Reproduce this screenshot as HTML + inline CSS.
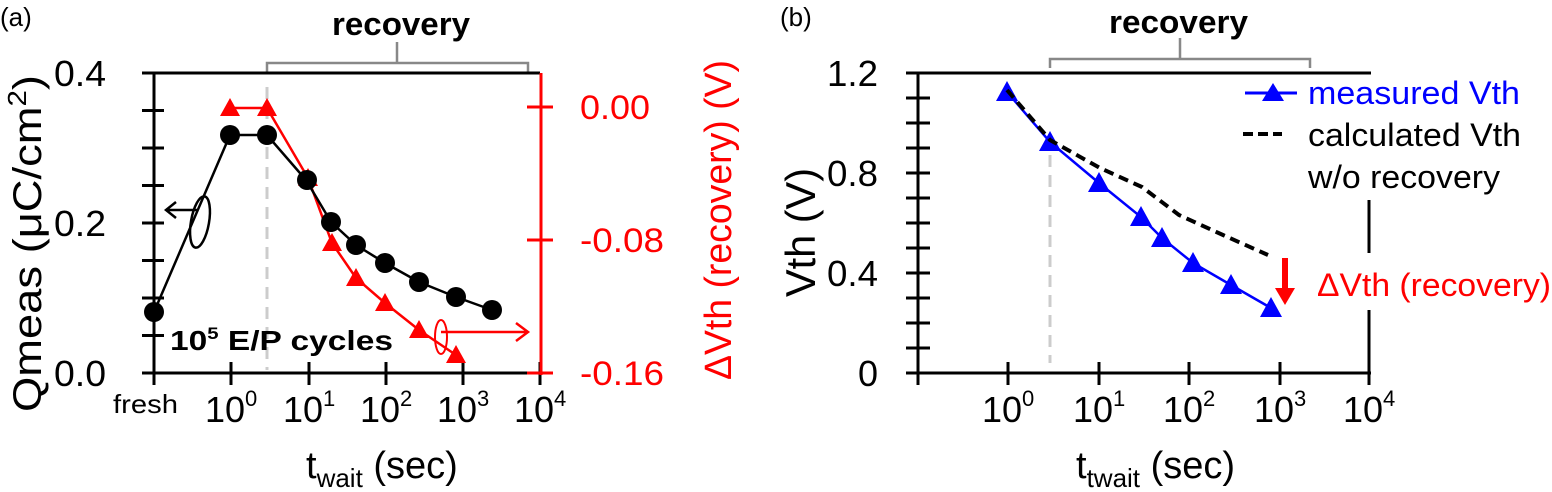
<!DOCTYPE html>
<html><head><meta charset="utf-8"><style>
html,body{margin:0;padding:0;background:#fff;}
svg{display:block;font-family:"Liberation Sans",sans-serif;}
</style></head><body>
<svg width="1552" height="492" viewBox="0 0 1552 492" xmlns="http://www.w3.org/2000/svg">
<!-- ===== Panel (a) ===== -->
<text x="0" y="26" font-size="26">(a)</text>
<text x="332" y="35" font-size="32" font-weight="bold" textLength="138" lengthAdjust="spacingAndGlyphs">recovery</text>
<path d="M267,73 V63 H528 V73 M397,63 V42" fill="none" stroke="#888" stroke-width="2.5"/>
<line x1="267" y1="87" x2="267" y2="370" stroke="#ccc" stroke-width="3" stroke-dasharray="12,8"/>
<line x1="142" y1="73" x2="540" y2="73" stroke="#000" stroke-width="3"/>
<line x1="154" y1="73" x2="154" y2="385" stroke="#000" stroke-width="3"/>
<line x1="142" y1="373" x2="540" y2="373" stroke="#000" stroke-width="3"/>
<g stroke="#000" stroke-width="3">
<line x1="142" y1="110.5" x2="164" y2="110.5"/><line x1="142" y1="148" x2="164" y2="148"/>
<line x1="142" y1="185.5" x2="164" y2="185.5"/><line x1="142" y1="223" x2="164" y2="223"/>
<line x1="142" y1="260.5" x2="164" y2="260.5"/><line x1="142" y1="298" x2="164" y2="298"/>
<line x1="142" y1="335.5" x2="164" y2="335.5"/>
<line x1="231" y1="362" x2="231" y2="385"/><line x1="309" y1="362" x2="309" y2="385"/>
<line x1="386" y1="362" x2="386" y2="385"/><line x1="463" y1="362" x2="463" y2="385"/>
<line x1="540" y1="362" x2="540" y2="385"/>
</g>
<line x1="541" y1="73" x2="541" y2="375" stroke="#f00" stroke-width="3"/>
<g stroke="#f00" stroke-width="3">
<line x1="527" y1="107" x2="553" y2="107"/><line x1="527" y1="240" x2="553" y2="240"/><line x1="527" y1="373" x2="553" y2="373"/>
</g>
<g font-size="36">
<text x="54" y="86" textLength="52" lengthAdjust="spacingAndGlyphs">0.4</text>
<text x="54" y="236" textLength="52" lengthAdjust="spacingAndGlyphs">0.2</text>
<text x="54" y="386" textLength="52" lengthAdjust="spacingAndGlyphs">0.0</text>
</g>
<g font-size="34" fill="#f00">
<text x="580" y="119" textLength="70" lengthAdjust="spacingAndGlyphs">0.00</text>
<text x="580" y="252" textLength="84" lengthAdjust="spacingAndGlyphs">-0.08</text>
<text x="580" y="385" textLength="84" lengthAdjust="spacingAndGlyphs">-0.16</text>
</g>
<text transform="translate(41,412) rotate(-90)" font-size="40" textLength="337" lengthAdjust="spacingAndGlyphs">Qmeas (μC/cm<tspan font-size="26" dy="-15">2</tspan><tspan dy="15">)</tspan></text>
<text transform="translate(731,380) rotate(-90)" font-size="38" fill="#f00" textLength="320" lengthAdjust="spacingAndGlyphs">ΔVth (recovery) (V)</text>
<text x="113" y="413" font-size="26" textLength="65" lengthAdjust="spacingAndGlyphs">fresh</text>
<g font-size="36">
<text x="205" y="422">10<tspan font-size="22" dy="-16">0</tspan></text>
<text x="283" y="422">10<tspan font-size="22" dy="-16">1</tspan></text>
<text x="360" y="422">10<tspan font-size="22" dy="-16">2</tspan></text>
<text x="437" y="422">10<tspan font-size="22" dy="-16">3</tspan></text>
<text x="514" y="422">10<tspan font-size="22" dy="-16">4</tspan></text>
</g>
<text x="306" y="478" font-size="38">t<tspan font-size="26" dy="9">wait</tspan><tspan dy="-9"> (sec)</tspan></text>
<polyline points="230,108 267,108 308,178 332,243 356,278 385,303 419,330 456,355" fill="none" stroke="#f00" stroke-width="2.5"/>
<g fill="#f00">
<polygon points="230,98 220,116 240,116"/><polygon points="267,98 257,116 277,116"/>
<polygon points="308,168 298,186 318,186"/><polygon points="332,233 322,251 342,251"/>
<polygon points="356,268 346,286 366,286"/><polygon points="385,293 375,311 395,311"/>
<polygon points="419,320 409,338 429,338"/><polygon points="456,345 446,363 466,363"/>
</g>
<polyline points="154,312 230,135 267,135 306,180 331,222 356,245 385,263 419,282 456,297 492,310" fill="none" stroke="#000" stroke-width="2.5"/>
<g fill="#000">
<circle cx="154" cy="312" r="10"/><circle cx="230" cy="135" r="10"/><circle cx="267" cy="135" r="10"/>
<circle cx="307" cy="180" r="10"/><circle cx="331" cy="222" r="10"/><circle cx="356" cy="245" r="10"/>
<circle cx="385" cy="263" r="10"/><circle cx="419" cy="282" r="10"/><circle cx="456" cy="297" r="10"/>
<circle cx="492" cy="310" r="10"/>
</g>
<path d="M198,210 H166 M176,202 L166,210 L176,218" fill="none" stroke="#000" stroke-width="2.5"/>
<ellipse cx="200" cy="222" rx="9" ry="26" fill="none" stroke="#000" stroke-width="2.5" transform="rotate(10 200 222)"/>
<path d="M441,332 H528 M516,323 L528,332 L516,341" fill="none" stroke="#f00" stroke-width="2.5"/>
<ellipse cx="441" cy="337" rx="6" ry="17" fill="none" stroke="#f00" stroke-width="2"/>
<text x="170" y="350" font-size="28" font-weight="bold" textLength="223" lengthAdjust="spacingAndGlyphs">10<tspan font-size="17" dy="-11">5</tspan><tspan dy="11"> E/P cycles</tspan></text>

<!-- ===== Panel (b) ===== -->
<text x="780" y="26" font-size="26">(b)</text>
<text x="1109" y="33" font-size="32" font-weight="bold" textLength="139" lengthAdjust="spacingAndGlyphs">recovery</text>
<path d="M1050,68 V59 H1310 V68 M1180,59 V38" fill="none" stroke="#888" stroke-width="2.5"/>
<line x1="1050" y1="135" x2="1050" y2="363" stroke="#ccc" stroke-width="3" stroke-dasharray="12,8"/>
<line x1="906" y1="73" x2="1371" y2="73" stroke="#000" stroke-width="3"/>
<line x1="918" y1="73" x2="918" y2="385" stroke="#000" stroke-width="3"/>
<line x1="906" y1="373" x2="1371" y2="373" stroke="#000" stroke-width="3"/>
<line x1="1369" y1="200" x2="1369" y2="253" stroke="#000" stroke-width="3"/>
<line x1="1369" y1="310" x2="1369" y2="373" stroke="#000" stroke-width="3"/>
<g stroke="#000" stroke-width="3">
<line x1="906" y1="98" x2="930" y2="98"/><line x1="906" y1="123" x2="930" y2="123"/><line x1="906" y1="148" x2="930" y2="148"/>
<line x1="906" y1="173" x2="930" y2="173"/><line x1="906" y1="198" x2="930" y2="198"/><line x1="906" y1="223" x2="930" y2="223"/>
<line x1="906" y1="248" x2="930" y2="248"/><line x1="906" y1="273" x2="930" y2="273"/><line x1="906" y1="298" x2="930" y2="298"/>
<line x1="906" y1="323" x2="930" y2="323"/><line x1="906" y1="348" x2="930" y2="348"/>
<line x1="1008" y1="362" x2="1008" y2="385"/><line x1="1099" y1="362" x2="1099" y2="385"/>
<line x1="1189" y1="362" x2="1189" y2="385"/><line x1="1280" y1="362" x2="1280" y2="385"/><line x1="1369" y1="362" x2="1369" y2="385"/>
</g>
<g font-size="36">
<text x="827" y="86" textLength="51" lengthAdjust="spacingAndGlyphs">1.2</text>
<text x="827" y="186" textLength="51" lengthAdjust="spacingAndGlyphs">0.8</text>
<text x="827" y="286" textLength="51" lengthAdjust="spacingAndGlyphs">0.4</text>
<text x="858" y="386">0</text>
</g>
<text transform="translate(815,297) rotate(-90)" font-size="42" textLength="129" lengthAdjust="spacingAndGlyphs">Vth (V)</text>
<g font-size="36">
<text x="982" y="422">10<tspan font-size="22" dy="-16">0</tspan></text>
<text x="1073" y="422">10<tspan font-size="22" dy="-16">1</tspan></text>
<text x="1163" y="422">10<tspan font-size="22" dy="-16">2</tspan></text>
<text x="1254" y="422">10<tspan font-size="22" dy="-16">3</tspan></text>
<text x="1343" y="422">10<tspan font-size="22" dy="-16">4</tspan></text>
</g>
<text x="1076" y="478" font-size="38">t<tspan font-size="26" dy="9">twait</tspan><tspan dy="-9"> (sec)</tspan></text>
<polyline points="1007,92 1050,142 1099,183 1141,217 1162,238 1193,263 1231,285 1271,308" fill="none" stroke="#00f" stroke-width="2.5"/>
<g fill="#00f">
<polygon points="1007,81 996,101 1018,101"/><polygon points="1050,131 1039,151 1061,151"/>
<polygon points="1099,172 1088,192 1110,192"/><polygon points="1141,206 1130,226 1152,226"/>
<polygon points="1162,227 1151,247 1173,247"/><polygon points="1193,252 1182,272 1204,272"/>
<polygon points="1231,274 1220,294 1242,294"/><polygon points="1271,297 1260,317 1282,317"/>
</g>
<polyline points="1007,90 1050,140 1100,168 1142,187 1179,215 1223,235 1268,255" fill="none" stroke="#000" stroke-width="4" stroke-dasharray="10,6"/>
<line x1="1245" y1="93" x2="1297" y2="93" stroke="#00f" stroke-width="3"/>
<polygon points="1273,83 1262,101 1284,101" fill="#00f"/>
<text x="1308" y="104" font-size="32" fill="#00f" textLength="212" lengthAdjust="spacingAndGlyphs">measured Vth</text>
<line x1="1243" y1="134" x2="1282" y2="134" stroke="#000" stroke-width="4" stroke-dasharray="10,5"/>
<text x="1308" y="146" font-size="32" textLength="213" lengthAdjust="spacingAndGlyphs">calculated Vth</text>
<text x="1308" y="188" font-size="32" textLength="192" lengthAdjust="spacingAndGlyphs">w/o recovery</text>
<line x1="1285" y1="258" x2="1285" y2="290" stroke="#f00" stroke-width="6"/>
<polygon points="1275,288 1295,288 1285,305" fill="#f00"/>
<text x="1317" y="296" font-size="32" fill="#f00" textLength="234" lengthAdjust="spacingAndGlyphs">ΔVth (recovery)</text>
</svg>
</body></html>
